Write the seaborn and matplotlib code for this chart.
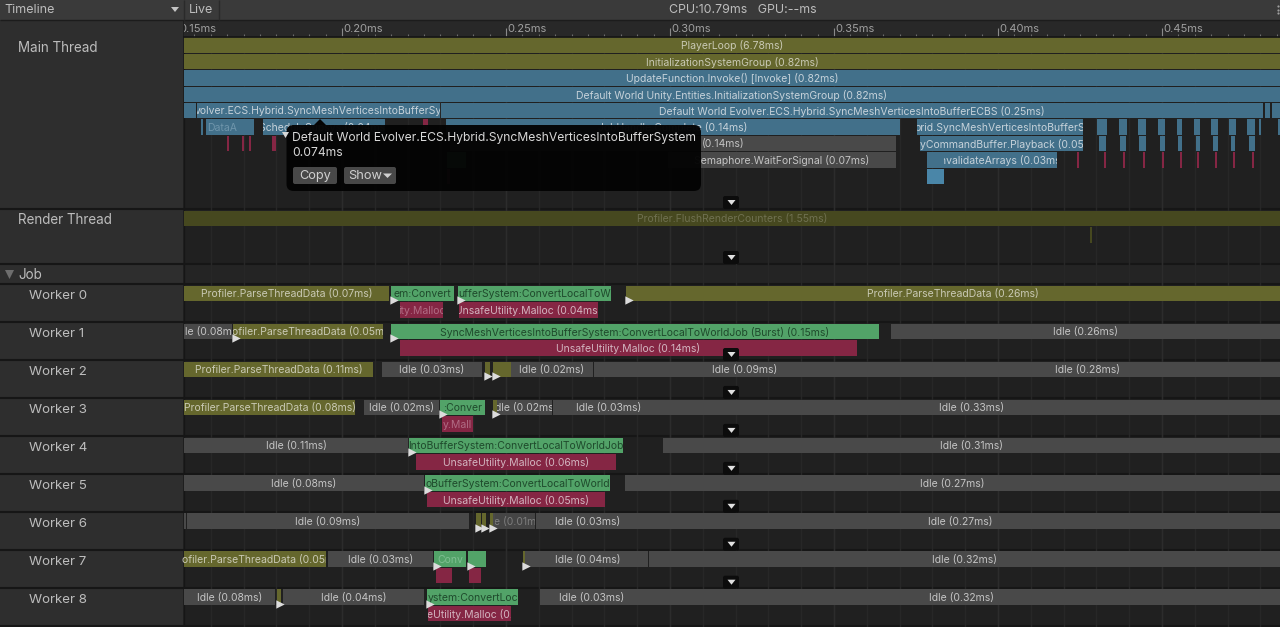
import numpy as np
import pandas as pd
import seaborn as sns
import matplotlib.pyplot as plt
from matplotlib.patches import FancyBboxPatch, Rectangle, Polygon

# profiler samples: (depth, start ms, end ms, kind, label)
main_thread = [
    (0, 0.15, 0.49, "olive", "PlayerLoop (6.78ms)"),
    (1, 0.15, 0.49, "olive", "InitializationSystemGroup (0.82ms)"),
    (2, 0.15, 0.49, "blue", "UpdateFunction.Invoke() [Invoke] (0.82ms)"),
    (3, 0.15, 0.49, "blue", "Default World Unity.Entities.InitializationSystemGroup (0.82ms)"),
    (4, 0.15, 0.1555, "blue", ""),
    (4, 0.1558, 0.2299, "blue", "volver.ECS.Hybrid.SyncMeshVerticesIntoBufferSy"),
    (4, 0.2302, 0.4808, "blue", "Default World Evolver.ECS.Hybrid.SyncMeshVerticesIntoBufferECBS (0.25ms)"),
    (4, 0.4814, 0.4829, "blue", ""),
    (4, 0.4835, 0.49, "blue", ""),
    (5, 0.1569, 0.1576, "blue", ""),
    (5, 0.1585, 0.1683, "blue_dim", "DataA"),
    (5, 0.1683, 0.1732, "blue", ""),
    (5, 0.1759, 0.2131, "blue", "ScheduleSubsys (0.04ms)"),
    (5, 0.2247, 0.2262, "red", ""),
    (5, 0.2317, 0.3701, "blue", "JobHandle.Complete (0.14ms)"),
    (5, 0.3753, 0.4259, "blue", "brid.SyncMeshVerticesIntoBufferS"),
    (5, 0.4302, 0.4332, "blue", ""),
    (5, 0.4369, 0.4393, "blue", ""),
    (5, 0.4427, 0.4451, "blue", ""),
    (5, 0.4488, 0.4509, "blue", ""),
    (5, 0.4546, 0.4561, "blue", ""),
    (5, 0.4598, 0.4616, "blue", ""),
    (5, 0.4649, 0.4671, "blue", ""),
    (5, 0.4704, 0.4726, "blue", ""),
    (5, 0.4759, 0.4784, "blue", ""),
    (5, 0.4796, 0.4802, "blue", ""),
    (5, 0.4854, 0.49, "blue", ""),
    (6, 0.1649, 0.1655, "red", ""),
    (6, 0.1695, 0.1701, "red", ""),
    (6, 0.1716, 0.1723, "red", ""),
    (6, 0.1787, 0.1799, "red", ""),
    (6, 0.2329, 0.3098, "grey", ""),
    (6, 0.3098, 0.3689, "grey", ""),
    (6, 0.3762, 0.4259, "blue", "yCommandBuffer.Playback (0.05"),
    (6, 0.4308, 0.4329, "blue", ""),
    (6, 0.4372, 0.4390, "blue", ""),
    (6, 0.4430, 0.4451, "blue", ""),
    (6, 0.4494, 0.4509, "blue", ""),
    (6, 0.4549, 0.4561, "blue", ""),
    (6, 0.4604, 0.4616, "blue", ""),
    (6, 0.4655, 0.4671, "blue", ""),
    (6, 0.4710, 0.4723, "blue", ""),
    (6, 0.4765, 0.4784, "blue", ""),
    (7, 0.2320, 0.2378, "green", ""),
    (7, 0.2994, 0.3689, "grey", "Semaphore.WaitForSignal (0.07ms)"),
    (7, 0.3784, 0.3835, "blue", ""),
    (7, 0.3835, 0.4180, "blue", "nvalidateArrays (0.03ms"),
    (7, 0.4241, 0.4247, "red", ""),
    (7, 0.4323, 0.4329, "red", ""),
    (7, 0.4381, 0.4387, "red", ""),
    (7, 0.4442, 0.4448, "red", ""),
    (7, 0.4500, 0.4506, "red", ""),
    (7, 0.4555, 0.4561, "red", ""),
    (7, 0.4607, 0.4613, "red", ""),
    (7, 0.4662, 0.4668, "red", ""),
    (7, 0.4716, 0.4723, "red", ""),
    (7, 0.4774, 0.4780, "red", ""),
    (8, 0.2320, 0.2329, "red", ""),
    (8, 0.3784, 0.3835, "blue_light", ""),
]
render_thread = [
    (0, 0.15, 0.49, "olive_dim", "Profiler.FlushRenderCounters (1.55ms)"),
    (1, 0.4280, 0.4287, "olive_dim", ""),
]
worker_0 = [
    (0, 0.15, 0.2143, "olive", "Profiler.ParseThreadData (0.07ms)"),
    (0, 0.2149, 0.2341, "green", "em:Convert"),
    (0, 0.2354, 0.2820, "green", "ufferSystem:ConvertLocalToW"),
    (0, 0.2866, 0.49, "olive", "Profiler.ParseThreadData (0.26ms)"),
    (1, 0.2177, 0.2308, "red_dim", "ity.Malloc"),
    (1, 0.2357, 0.2780, "red", "UnsafeUtility.Malloc (0.04ms)"),
]
worker_1 = [
    (0, 0.15, 0.1665, "grey", "le (0.08m"),
    (0, 0.1668, 0.2125, "olive", "ofiler.ParseThreadData (0.05m"),
    (0, 0.2149, 0.3637, "green", "SyncMeshVerticesIntoBufferSystem:ConvertLocalToWorldJob (Burst) (0.15ms)"),
    (0, 0.3674, 0.49, "grey", "Idle (0.26ms)"),
    (1, 0.2177, 0.3570, "red", "UnsafeUtility.Malloc (0.14ms)"),
]
worker_2 = [
    (0, 0.15, 0.2095, "olive", "Profiler.ParseThreadData (0.11ms)"),
    (0, 0.2122, 0.2427, "grey", "Idle (0.03ms)"),
    (0, 0.2436, 0.2451, "olive", ""),
    (0, 0.2460, 0.2515, "olive", ""),
    (0, 0.2515, 0.2765, "grey", "Idle (0.02ms)"),
    (0, 0.2768, 0.3689, "grey", "Idle (0.09ms)"),
    (0, 0.3689, 0.49, "grey", "Idle (0.28ms)"),
]
worker_3 = [
    (0, 0.15, 0.2040, "olive", "Profiler.ParseThreadData (0.08ms)"),
    (0, 0.2067, 0.2296, "grey", "Idle (0.02ms)"),
    (0, 0.2299, 0.2436, "green", ":Conver"),
    (0, 0.2460, 0.2473, "olive", ""),
    (0, 0.2473, 0.2640, "grey", "dle (0.02ms"),
    (0, 0.2643, 0.2982, "grey", "Idle (0.03ms)"),
    (0, 0.2982, 0.49, "grey", "Idle (0.33ms)"),
    (1, 0.2305, 0.2399, "red_dim", "y.Mall"),
]
worker_4 = [
    (0, 0.15, 0.2201, "grey", "Idle (0.11ms)"),
    (0, 0.2204, 0.2857, "green", "IntoBufferSystem:ConvertLocalToWorldJob"),
    (0, 0.2979, 0.49, "grey", "Idle (0.31ms)"),
    (1, 0.2226, 0.2835, "red", "UnsafeUtility.Malloc (0.06ms)"),
]
worker_5 = [
    (0, 0.15, 0.2250, "grey", "Idle (0.08ms)"),
    (0, 0.2253, 0.2817, "green", "oBufferSystem:ConvertLocalToWorld"),
    (0, 0.2863, 0.49, "grey", "Idle (0.27ms)"),
    (1, 0.2259, 0.2802, "red", "UnsafeUtility.Malloc (0.05ms)"),
]
worker_6 = [
    (0, 0.15, 0.1524, "grey", ""),
    (0, 0.1527, 0.2387, "grey", "Idle (0.09ms)"),
    (0, 0.2409, 0.2424, "olive", ""),
    (0, 0.2427, 0.2439, "olive", ""),
    (0, 0.2451, 0.2460, "olive", ""),
    (0, 0.2460, 0.2466, "grey", ""),
    (0, 0.2466, 0.2588, "grey_dim", "e (0.01m"),
    (0, 0.2591, 0.2909, "grey", "Idle (0.03ms)"),
    (0, 0.2909, 0.49, "grey", "Idle (0.27ms)"),
]
worker_7 = [
    (0, 0.15, 0.1951, "olive", "ofiler.ParseThreadData (0.05r"),
    (0, 0.1957, 0.2277, "grey", "Idle (0.03ms)"),
    (0, 0.2280, 0.2378, "green_dim", "Conv"),
    (0, 0.2384, 0.2439, "green", ""),
    (0, 0.2552, 0.2558, "olive", ""),
    (0, 0.2558, 0.2564, "grey", ""),
    (0, 0.2564, 0.2933, "grey", "Idle (0.04ms)"),
    (0, 0.2936, 0.49, "grey", "Idle (0.32ms)"),
    (1, 0.2287, 0.2335, "red", ""),
    (1, 0.2387, 0.2424, "red", ""),
]
worker_8 = [
    (0, 0.15, 0.1796, "grey", "Idle (0.08ms)"),
    (0, 0.1802, 0.1814, "olive", ""),
    (0, 0.1820, 0.2250, "grey", "Idle (0.04ms)"),
    (0, 0.2259, 0.2537, "green", "ystem:ConvertLoc"),
    (0, 0.2604, 0.2915, "grey", "Idle (0.03ms)"),
    (0, 0.2915, 0.49, "grey", "Idle (0.32ms)"),
    (1, 0.2262, 0.2515, "red", "eUtility.Malloc (0."),
]
workers = [worker_0, worker_1, worker_2, worker_3, worker_4, worker_5, worker_6, worker_7, worker_8]

# flow event arrows per worker, ms
flow_events = [
    [0.2149, 0.2354, 0.2866],
    [0.1668, 0.2149],
    [0.2436, 0.2460],
    [0.2299, 0.2460],
    [0.2204],
    [0.2253],
    [0.2409, 0.2427, 0.2451],
    [0.2280, 0.2384, 0.2552],
    [0.1802, 0.2259],
]

tick_values = [0.15, 0.20, 0.25, 0.30, 0.35, 0.40, 0.45]
tick_labels = ["0.15ms", "0.20ms", "0.25ms", "0.30ms", "0.35ms", "0.40ms", "0.45ms"]

WIDTH, HEIGHT = 1280, 627
VIEW_START, VIEW_END = 0.1518, 0.4860
ROW_PITCH, BAR_HEIGHT = 16.4, 15.6
MAIN_TOP, RENDER_TOP = 37.3, 210.7
WORKER_TOP, WORKER_PITCH = 285.7, 37.95

COLORS = {
    "olive": "#65672d", "olive_dim": "#46481f", "blue": "#42708a", "blue_dim": "#42708a",
    "blue_light": "#4a86a8", "grey": "#494949", "grey_dim": "#454545", "green": "#52a368",
    "green_dim": "#52a368", "red": "#852644", "red_dim": "#852644",
}
TEXT_COLORS = {
    "olive": "#c9c9b4", "olive_dim": "#6f7050", "blue": "#c6d2da", "blue_dim": "#6f95ab",
    "blue_light": "#c6d2da", "grey": "#c4c4c4", "grey_dim": "#7d7d7d", "green": "#1f4a2c",
    "green_dim": "#7fbf92", "red": "#d3b5c0", "red_dim": "#b06c84",
}

sns.set_theme(style="dark")
plt.rcParams["font.family"] = ["Inter", "DejaVu Sans"]

fig = plt.figure(figsize=(WIDTH / 100, HEIGHT / 100), dpi=100, facecolor="#202020")


def px_axes(x0, y0, x1, y1, zorder):
    return fig.add_axes(
        [x0 / WIDTH, 1 - y1 / HEIGHT, (x1 - x0) / WIDTH, (y1 - y0) / HEIGHT], zorder=zorder
    )


# backdrop, in pixels
back = px_axes(0, 0, WIDTH, HEIGHT, 0)
back.set_xlim(0, WIDTH)
back.set_ylim(HEIGHT, 0)
back.set_axis_off()
back.add_patch(Rectangle((184, 20), WIDTH, HEIGHT, color="#202020", lw=0))
back.add_patch(Rectangle((0, 20), 183, HEIGHT, color="#2e2e2e", lw=0))
back.add_patch(Rectangle((184, 265), WIDTH, 19, color="#242424", lw=0))
separators = [209, 264, 284] + [284 + WORKER_PITCH * i for i in range(1, 10)]
back.hlines(separators, 0, WIDTH, color="#161616", lw=1.5)
back.vlines(183.5, 20, HEIGHT, color="#161616", lw=1)

# timeline
ax = px_axes(184, 0, WIDTH, HEIGHT, 1)
ax.patch.set_alpha(0)
grid_ms = np.arange(0.15, 0.49, 0.01)
ax.vlines(grid_ms, 37, HEIGHT, color="#272727", lw=1, zorder=0)
ax.vlines(tick_values, 37, HEIGHT, color="#2c2c2c", lw=1, zorder=0)


def draw_lane(samples, top):
    for depth, start, end, kind, label in samples:
        y = top + depth * ROW_PITCH + BAR_HEIGHT / 2
        sns.barplot(
            x=[end - start], y=[y], left=start, orient="h", native_scale=True,
            width=BAR_HEIGHT, color=COLORS[kind], saturation=1, linewidth=0,
            errorbar=None, legend=False, ax=ax, zorder=2,
        )
        if label:
            patch = ax.containers[-1].patches[0]
            mid = (max(start, VIEW_START) + min(end, VIEW_END)) / 2
            t = ax.text(mid, y + 0.8, label, ha="center", va="center", fontsize=7.5,
                        color=TEXT_COLORS[kind], zorder=3)
            t.set_clip_on(True)
            t.set_clip_path(patch)


draw_lane(main_thread, MAIN_TOP)
draw_lane(render_thread, RENDER_TOP)
for i, lane in enumerate(workers):
    draw_lane(lane, WORKER_TOP + WORKER_PITCH * i)

# what shows of the grey sample's label beside the tooltip
ax.text(0.3098, MAIN_TOP + 6 * ROW_PITCH + BAR_HEIGHT / 2 + 0.8, "(0.14ms)", ha="left", va="center",
        fontsize=7.5, color=TEXT_COLORS["grey"], zorder=3)

flows = pd.DataFrame(
    [(t, WORKER_TOP + WORKER_PITCH * i + 14.5) for i, ev in enumerate(flow_events) for t in ev],
    columns=["ms", "y"],
)
sns.scatterplot(
    x=flows["ms"] + 0.0009, y=flows["y"], marker=">", s=36, color="#dcdcdc",
    linewidth=0, legend=False, ax=ax, zorder=4,
)
ax.set_xlim(VIEW_START, VIEW_END)
ax.set_ylim(HEIGHT, 0)
ax.set_axis_off()

# ruler
ruler = px_axes(184, 20, WIDTH, 37, 2)
ruler.set_facecolor("#282828")
ruler.set_xlim(VIEW_START, VIEW_END)
ruler.set_ylim(0, 1)
ruler.set_yticks([])
ruler.set_xticks([t for t in tick_values if t > VIEW_START])
ruler.set_xticklabels([])
ruler.set_xticks(np.arange(0.155, 0.49, 0.005), minor=True)
ruler.tick_params(axis="x", which="major", direction="in", length=6.5, width=0.8, color="#8a8a8a", bottom=True)
ruler.tick_params(axis="x", which="minor", direction="in", length=2, width=0.8, color="#6e6e6e", bottom=True)
sns.despine(ax=ruler, left=True, top=True, right=True, bottom=False)
ruler.spines["bottom"].set_color("#161616")
for value, text in zip(tick_values, tick_labels):
    ruler.text(value + 0.0003, 0.48, text, ha="left", va="center", fontsize=8,
               color="#a0a0a0", clip_on=True)

# chrome, tooltip and buttons on top, in pixels
top = px_axes(0, 0, WIDTH, HEIGHT, 5)
top.set_xlim(0, WIDTH)
top.set_ylim(HEIGHT, 0)
top.set_axis_off()
top.patch.set_alpha(0)
top.add_patch(Rectangle((0, 0), WIDTH, 19.5, color="#3a3a3a", lw=0))
top.hlines(19.5, 0, WIDTH, color="#1c1c1c", lw=1)
top.vlines([183.5, 219], 0, 19.5, color="#2a2a2a", lw=1)
top.text(4, 10, "Timeline", fontsize=9, color="#bdbdbd", va="center")
top.add_patch(Polygon([(171, 7), (179, 7), (175, 12)], color="#c4c4c4", lw=0))
top.text(189, 10, "Live", fontsize=9, color="#bdbdbd", va="center")
top.text(743, 10, "CPU:10.79ms   GPU:--ms", fontsize=8.9, color="#bdbdbd", va="center", ha="center")
top.scatter([1277.5, 1277.5, 1277.5], [6, 9.5, 13], s=2.5, color="#a0a0a0", linewidths=0)

top.text(18, 47.5, "Main Thread", fontsize=9.7, color="#bdbdbd", va="center")
top.text(18, 220.5, "Render Thread", fontsize=9.7, color="#bdbdbd", va="center")
top.text(18, 275, "Job", fontsize=9.7, color="#bdbdbd", va="center")
top.add_patch(Polygon([(5, 270), (14, 270), (9.5, 279)], color="#6e6e6e", lw=0))
for i in range(9):
    top.text(29, 296 + WORKER_PITCH * i, f"Worker {i}", fontsize=9.6, color="#bdbdbd", va="center")

# collapse buttons
for y in [195, 250] + [347 + WORKER_PITCH * i for i in range(7)]:
    top.add_patch(FancyBboxPatch((723, y + 1), 16, 13, boxstyle="round,pad=0,rounding_size=2",
                                 color="#0c0c0c", lw=0))
    top.add_patch(Polygon([(727.5, y + 5), (735.5, y + 5), (731.5, y + 10)], color="#e0e0e0", lw=0))

# tooltip
top.add_patch(Polygon([(314, 125), (320, 119), (326, 125)], color="#050505", lw=0))
top.add_patch(FancyBboxPatch((286.5, 125), 414.5, 66, boxstyle="round,pad=0,rounding_size=7",
                             color="#040404", alpha=0.97, lw=0))
top.add_patch(Polygon([(282, 132), (289, 132), (285.5, 138)], color="#d8d8d8", lw=0))
top.text(292, 138.5, "Default World Evolver.ECS.Hybrid.SyncMeshVerticesIntoBufferSystem",
         fontsize=8.73, color="#d8d8d8", va="center")
top.text(292, 153.5, "0.074ms", fontsize=8.73, color="#d8d8d8", va="center")
top.add_patch(FancyBboxPatch((293, 167), 44, 17, boxstyle="round,pad=0,rounding_size=2", color="#484848", lw=0))
top.add_patch(FancyBboxPatch((344, 167), 52, 17, boxstyle="round,pad=0,rounding_size=2", color="#484848", lw=0))
top.text(315, 176, "Copy", fontsize=9.2, color="#d0d0d0", va="center", ha="center")
top.text(348, 176, "Show", fontsize=9.2, color="#d0d0d0", va="center", ha="left")
top.add_patch(Polygon([(383, 173.5), (392, 173.5), (387.5, 178)], color="#d0d0d0", lw=0))

fig.savefig("out.png", dpi=100, facecolor=fig.get_facecolor())
